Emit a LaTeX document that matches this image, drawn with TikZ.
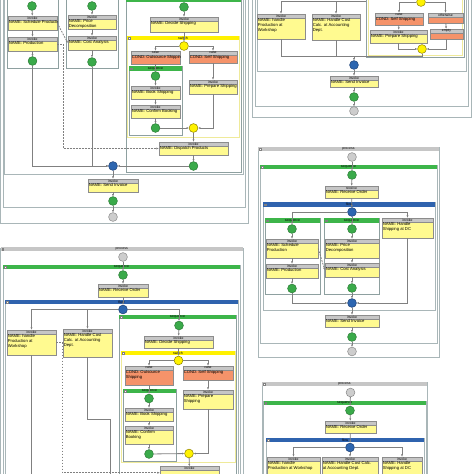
\documentclass[tikz,border=0pt]{standalone}
\usepackage{fontspec}
\setmainfont{Liberation Sans}
\usetikzlibrary{fit,arrows.meta}
\definecolor{yb}{HTML}{FFFA90}
\definecolor{ob}{HTML}{F5936A}
\definecolor{hg}{HTML}{C6C6C6}
\definecolor{gbar}{HTML}{3DB54A}
\definecolor{bbar}{HTML}{2F63AE}
\definecolor{ybar}{HTML}{FFF100}
\definecolor{gfill}{HTML}{3AAA4A}
\definecolor{gdark}{HTML}{2A7A34}
\definecolor{bfill}{HTML}{2D66B0}
\definecolor{bdark}{HTML}{1B3E73}
\definecolor{yfill}{HTML}{FFF200}
\definecolor{ydark}{HTML}{8C8000}
\definecolor{grfill}{HTML}{CDCDCD}
\definecolor{grdark}{HTML}{8A8A8A}
\definecolor{frc}{HTML}{A9B6B8}
\definecolor{fric}{HTML}{8EA0A0}
\definecolor{swc}{HTML}{EFEA9A}
\definecolor{lnc}{HTML}{808080}
\newcommand\bodyfont{\fontsize{4.2}{5.1}\selectfont}
\newcommand\headfont{\fontsize{3.4}{3.6}\selectfont}
\newcommand\stripfont{\fontsize{3.5}{3.7}\selectfont}
\tikzset{
 fr/.style={draw=frc, line width=0.7pt},
 fri/.style={draw=fric, line width=0.6pt},
 swfr/.style={draw=swc, line width=0.9pt},
 stripst/.style={inner sep=0, draw=none},
 striptext/.style={font=\stripfont, inner sep=0},
 icon/.style={draw=black!50, fill=white, minimum size=1.8pt, inner sep=0, line width=0.2pt},
 actbody/.style={draw=black!45, line width=0.45pt, inner sep=0},
 acthead/.style={draw=black!45, fill=hg, line width=0.45pt, inner sep=0},
 headtext/.style={font=\headfont, inner sep=0},
 bodytext/.style={font=\bodyfont, anchor=north west, align=left, inner xsep=0.6pt, inner ysep=0.4pt},
 circ/.style={circle, inner sep=0, minimum size=8.8pt, line width=0.5pt},
 gc/.style={circ, draw=gdark, fill=gfill},
 bc/.style={circ, draw=bdark, fill=bfill},
 yc/.style={circ, draw=ydark, fill=yfill},
 grc/.style={circ, draw=grdark, fill=grfill},
 plain/.style={draw=lnc, line width=0.8pt},
 conn/.style={plain, -{Latex[length=2.3pt,width=2.1pt]}},
 dconn/.style={conn, dash pattern=on 1.8pt off 1.2pt},
}
\newcommand\act[8]{%
  \node[actbody, fill=#8, fit={(#2,#3) (#4,#5)}] (#1) {};
  \node[acthead, fit={(#2,#3) (#4,#3+3.8)}] (#1h) {};
  \node[headtext] (#1ht) at (#1h.center) {#6};
  \begin{scope}
    \clip (#2,#3) rectangle (#4,#5);
    \node[bodytext] (#1bt) at (#2,#3+3.8) {#7};
  \end{scope}
}
\newcommand\strip[7]{%
  \node[stripst, fill=#6, fit={(#2,#3) (#4,#5)}] (#1) {};
  \node[striptext] (#1t) at (#1.center) {#7};
  \node[icon] (#1i) at ({#2+2},{(#3+#5)/2}) {};
}
\begin{document}
\begin{tikzpicture}[x=1pt,y=-1pt]
\useasboundingbox (0,0) rectangle (474,474);
\clip (0,0) rectangle (474,474);
\fill[white] (0,0) rectangle (474,474);

% ================= Panel 1 (top left)
\draw[fr] (0.5,-2) -- (0.5,223) -- (248,223) -- (248,-2);
\draw[fr] (3,-2) -- (3,207) -- (245,207) -- (245,-2);
\draw[fr] (4.5,-2) -- (4.5,174) -- (243,174) -- (243,-2);
\draw[fri] (7,-2) -- (7,68) -- (58,68) -- (58,-2);
\draw[fri] (66,-2) -- (66,68) -- (118,68) -- (118,-2);
\draw[fri] (126,-2) -- (126,172) -- (241,172) -- (241,-2);
\node[stripst, fill=gbar, fit={(126,-1) (241,1.5)}] (s1a) {};
\draw[swfr] (127,36) rectangle (239,137);
\strip{sw1}{127}{36}{239}{40}{ybar}{switch}
\draw[fri] (129,66) rectangle (182,135);
\strip{s1b}{129}{66}{182}{71}{gbar}{sequence}

\node[gc] (g1a) at (32,6) {};
\act{schedP1}{8}{16}{57}{30}{invoke}{NAME: Schedule Production}{yb}
\act{prodP1}{8}{37}{57}{51}{invoke}{NAME: Production}{yb}
\node[gc] (g1b) at (32.5,61) {};
\node[gc] (g1c) at (92,6) {};
\act{priceP1}{68}{15}{116}{29}{invoke}{NAME: Price\\Decomposition}{yb}
\act{costP1}{68}{36}{116}{50}{invoke}{NAME: Cost Analysis}{yb}
\node[gc] (g1d) at (92,62) {};
\node[gc] (g1e) at (184,7) {};
\act{decideP1}{150}{17}{218}{32}{invoke}{NAME: Decide Shipping}{yb}
\node[yc] (y1a) at (184,46) {};
\act{outsP1}{131}{51}{180}{64}{case}{COND: Outsource Shipping}{ob}
\act{selfP1}{189}{51}{237}{63}{case}{COND: Self Shipping}{ob}
\node[gc] (g1f) at (155.5,76) {};
\act{bookP1}{131}{86}{180}{99}{invoke}{NAME: Book Shipping}{yb}
\act{confP1}{131}{105}{180}{118}{invoke}{NAME: Confirm Booking}{yb}
\node[gc] (g1g) at (155.5,128) {};
\act{prepP1}{189}{80}{237}{94}{invoke}{NAME: Prepare Shipping}{yb}
\node[yc] (y1b) at (193.5,128) {};
\act{dispP1}{159}{142}{228}{155}{invoke}{NAME: Dispatch Products}{yb}
\node[gc] (g1h) at (193.5,166) {};
\node[bc] (b1) at (113,166) {};
\act{sendP1}{88}{179}{138}{192}{invoke}{NAME: Send Invoice}{yb}
\node[gc] (g1i) at (113,201) {};
\node[grc] (gr1) at (113,217) {};

\draw[conn] (g1a) -- (schedP1);
\draw[conn] (schedP1) -- (prodP1);
\draw[conn] (prodP1) -- (g1b);
\draw[conn] (g1c) -- (priceP1);
\draw[conn] (priceP1) -- (costP1);
\draw[conn] (costP1) -- (g1d);
\draw[conn] (g1e) -- (decideP1);
\draw[conn] (decideP1) -- (y1a);
\draw[conn] (y1a) -| (outsP1);
\draw[conn] (y1a) -| (selfP1);
\draw[conn] (outsP1) -- (g1f);
\draw[conn] (g1f) -- (bookP1);
\draw[conn] (bookP1) -- (confP1);
\draw[conn] (confP1) -- (g1g);
\draw[conn] (g1g) -- (y1b);
\draw[conn] (selfP1) -- (prepP1);
\draw[conn] (prepP1) |- (y1b);
\draw[conn] (y1b) -- (dispP1);
\draw[conn] (dispP1) -- (g1h);
\draw[conn] (g1b) |- (b1);
\draw[conn] (g1d) |- (b1);
\draw[conn] (g1h) -- (b1);
\draw[conn] (b1) -- (sendP1);
\draw[conn] (sendP1) -- (g1i);
\draw[conn] (g1i) -- (gr1);
\draw[dconn] (schedP1.east) -- (costP1.west);
\draw[dconn] (prodP1.east) -- ++(6,0) |- (dispP1.west);

% ================= Panel 2 (top right)
\draw[fr] (252,-2) -- (252,117) -- (471,117) -- (471,-2);
\draw[fr] (255,-2) -- (255,106) -- (468,106) -- (468,-2);
\draw[fr] (257,-2) -- (257,71) -- (466,71) -- (466,-2);
\draw[fri] (366,-2) -- (366,57) -- (464,57) -- (464,-2);
\draw[swfr] (368,-2) -- (368,55) -- (462,55) -- (462,-2);
\coordinate (t2a) at (281,1);
\coordinate (t2b) at (336,1);
\coordinate (t2c) at (366,1);
\act{workP2}{257}{14}{305}{39}{invoke}{NAME: handle\\Production at\\Workshop}{yb}
\act{costcP2}{312}{14}{360}{40}{invoke}{NAME: Handle Cost\\Calc. at Accounting\\Dept.}{yb}
\node[yc] (y2a) at (421,2) {};
\act{selfP2}{375}{13}{423}{25}{case}{COND: Self Shipping}{ob}
\act{othP2}{428}{13}{463}{23}{otherwise}{}{ob}
\act{prepP2}{370}{30}{427}{43}{invoke}{NAME: Prepare Shipping}{yb}
\act{emptyP2}{430}{29}{463}{39}{empty}{}{ob}
\node[yc] (y2b) at (422,49) {};
\coordinate (m2) at (354,56);
\node[bc] (b2) at (354,65) {};
\act{sendP2}{330}{76}{378}{87}{invoke}{NAME: Send Invoice}{yb}
\node[gc] (g2a) at (354,97) {};
\node[grc] (gr2) at (354,111) {};

\draw[plain] (t2a) -- (t2c);
\draw[conn] (t2a) -- (workP2);
\draw[conn] (t2b) -- (costcP2);
\draw[conn] (y2a) -| (selfP2);
\draw[conn] (y2a) -| (othP2);
\draw[conn] (selfP2) -- (prepP2);
\draw[conn] (othP2) -- (emptyP2);
\draw[conn] (prepP2) |- (y2b);
\draw[conn] (emptyP2) |- (y2b);
\draw[plain] (workP2) |- (m2);
\draw[plain] (costcP2) |- (m2);
\draw[plain] (y2b) |- (m2);
\draw[conn] (m2) -- (b2);
\draw[conn] (b2) -- (sendP2);
\draw[conn] (sendP2) -- (g2a);
\draw[conn] (g2a) -- (gr2);

% ================= Panel 4 (middle right)
\draw[fr] (258,147) rectangle (439,357);
\strip{pr4}{258}{147}{439}{151}{hg}{process}
\draw[fr] (260,165) rectangle (437,343);
\strip{sq4}{260}{165}{437}{169}{gbar}{sequence}
\draw[fr] (263,202) rectangle (435,310);
\strip{fl4}{263}{202}{435}{207}{bbar}{flow}
\draw[fri] (265,218) rectangle (320,294);
\strip{sq4a}{265}{218}{320}{223}{gbar}{sequence}
\draw[fri] (324,218) rectangle (379,294);
\strip{sq4b}{324}{218}{379}{223}{gbar}{sequence}

\node[grc] (gr4a) at (352,157) {};
\node[gc] (g4a) at (352,175) {};
\act{recvP4}{325}{186}{378}{198}{receive}{NAME: Receive Order}{yb}
\node[bc] (b4a) at (352,212) {};
\node[gc] (g4b) at (292,229) {};
\node[gc] (g4c) at (352,229) {};
\act{shipP4}{382}{218}{433}{238}{invoke}{NAME: Handle\\Shipping at DC}{yb}
\act{schedP4}{266}{239}{318}{258}{invoke}{NAME: Schedule\\Production}{yb}
\act{prodP4}{266}{264}{318}{278}{invoke}{NAME: Production}{yb}
\node[gc] (g4d) at (292,288.5) {};
\act{priceP4}{325}{239}{379}{258}{invoke}{NAME: Price\\Decomposition}{yb}
\act{costP4}{325}{263}{379}{277}{invoke}{NAME: Cost Analysis}{yb}
\node[gc] (g4e) at (352,288) {};
\node[bc] (b4b) at (352,303) {};
\act{sendP4}{325}{315}{379}{327}{invoke}{NAME: Send Invoice}{yb}
\node[gc] (g4f) at (352,337) {};
\node[grc] (gr4b) at (352,351.5) {};

\draw[conn] (gr4a) -- (g4a);
\draw[conn] (g4a) -- (recvP4);
\draw[conn] (recvP4) -- (b4a);
\draw[conn] (b4a) -| (g4b);
\draw[conn] (b4a) -- (g4c);
\draw[conn] (b4a) -| (shipP4);
\draw[conn] (g4b) -- (schedP4);
\draw[conn] (schedP4) -- (prodP4);
\draw[conn] (prodP4) -- (g4d);
\draw[conn] (g4c) -- (priceP4);
\draw[conn] (priceP4) -- (costP4);
\draw[conn] (costP4) -- (g4e);
\draw[conn] (g4d) |- (b4b);
\draw[conn] (g4e) -- (b4b);
\draw[conn] (shipP4) |- (b4b);
\draw[conn] (b4b) -- (sendP4);
\draw[conn] (sendP4) -- (g4f);
\draw[conn] (g4f) -- (gr4b);
\draw[dconn] (schedP4.east) -- (costP4.west);

% ================= Panel 3 (bottom left)
\draw[fr] (0.5,476) -- (0.5,248) -- (243,248) -- (243,476);
\strip{pr3}{0.5}{247}{243}{250.5}{hg}{process}
\draw[fr] (3,476) -- (3,265) -- (240,265) -- (240,476);
\strip{sq3}{3}{265}{240}{269}{gbar}{sequence}
\draw[fr] (5,476) -- (5,300) -- (238,300) -- (238,476);
\strip{fl3}{5}{300}{238}{304}{bbar}{flow}
\draw[fri] (119,476) -- (119,315) -- (236,315) -- (236,476);
\strip{sq3a}{119}{315}{236}{319}{gbar}{sequence}
\draw[swfr] (121,351) rectangle (235,462);
\strip{sw3}{121}{351}{235}{355}{ybar}{switch}
\draw[fri] (123,389) rectangle (176,461);
\strip{sq3b}{123}{389}{176}{393}{gbar}{sequence}

\node[grc] (gr3) at (123,257) {};
\node[gc] (g3a) at (123,275) {};
\act{recvP3}{98}{284}{148}{297}{invoke}{NAME: Receive Order}{yb}
\node[bc] (b3) at (123,309.5) {};
\act{workP3}{7}{330}{56}{355}{invoke}{NAME: handle\\Production at\\Workshop}{yb}
\act{costcP3}{63}{329}{112}{357}{invoke}{NAME: Handle Cost\\Calc. at Accounting\\Dept.}{yb}
\node[gc] (g3b) at (179,325.5) {};
\act{decideP3}{144}{336}{213}{348}{invoke}{NAME: Decide Shipping}{yb}
\node[yc] (y3a) at (178.5,360.5) {};
\act{outsP3}{125}{366}{173}{385}{case}{COND: Outsource\\Shipping}{ob}
\act{selfP3}{183}{366}{233}{380}{case}{COND: Self Shipping}{ob}
\node[gc] (g3c) at (149,398.5) {};
\act{bookP3}{125}{408}{173}{421}{invoke}{NAME: Book Shipping}{yb}
\act{confP3}{125}{426}{173}{444}{invoke}{NAME: Confirm\\Booking}{yb}
\node[gc] (g3d) at (149,454) {};
\act{prepP3}{183}{390}{233}{409}{invoke}{NAME: Prepare\\Shipping}{yb}
\node[yc] (y3b) at (189,453.5) {};
\act{dispP3}{160}{466.5}{219}{479}{invoke}{}{yb}
\coordinate (e3a) at (31.5,476);
\coordinate (e3b) at (110,476);

\draw[conn] (gr3) -- (g3a);
\draw[conn] (g3a) -- (recvP3);
\draw[conn] (recvP3) -- (b3);
\draw[conn] (b3) -| (workP3);
\draw[conn] (b3) -| (costcP3);
\draw[conn] (b3) -| (g3b);
\draw[conn] (g3b) -- (decideP3);
\draw[conn] (decideP3) -- (y3a);
\draw[conn] (y3a) -| (outsP3);
\draw[conn] (y3a) -| (selfP3);
\draw[conn] (outsP3) -- (g3c);
\draw[conn] (g3c) -- (bookP3);
\draw[conn] (bookP3) -- (confP3);
\draw[conn] (confP3) -- (g3d);
\draw[conn] (g3d) -- (y3b);
\draw[conn] (selfP3) -- (prepP3);
\draw[conn] (prepP3) |- (y3b);
\draw[conn] (y3b) -- (dispP3);
\draw[plain] (workP3) -- (e3a);
\draw[plain] (costcP3.south) -- (87.5,419) -- (110,419) -- (e3b);
\draw[dconn] (workP3.east) -- ++(6,0) |- (dispP3.west);

% ================= Panel 5 (bottom right)
\draw[fr] (262,476) -- (262,382) -- (427,382) -- (427,476);
\strip{pr5}{262}{382}{427}{386}{hg}{process}
\draw[fr] (263.5,476) -- (263.5,401) -- (426,401) -- (426,476);
\strip{sq5}{263.5}{401}{426}{404.5}{gbar}{sequence}
\draw[fr] (266,476) -- (266,438) -- (424,438) -- (424,476);
\strip{fl5}{266}{438}{424}{442}{bbar}{flow}
\node[grc] (gr5) at (350.5,392.5) {};
\node[gc] (g5) at (350,410.5) {};
\act{recvP5}{325}{421}{376}{433}{invoke}{NAME: Receive Order}{yb}
\node[bc] (b5) at (350,447.5) {};
\act{workP5}{267}{457}{320}{482}{invoke}{NAME: handle\\Production at Workshop}{yb}
\act{costcP5}{322}{457}{378}{482}{invoke}{NAME: Handle Cost Calc.\\at Accounting Dept.}{yb}
\act{shipP5}{382}{457}{422}{482}{invoke}{NAME: Handle\\Shipping at DC}{yb}
\draw[conn] (gr5) -- (g5);
\draw[conn] (g5) -- (recvP5);
\draw[conn] (recvP5) -- (b5);
\draw[conn] (b5) -| (workP5);
\draw[conn] (b5) -- (costcP5);
\draw[conn] (b5) -| (shipP5);
\end{tikzpicture}
\end{document}
